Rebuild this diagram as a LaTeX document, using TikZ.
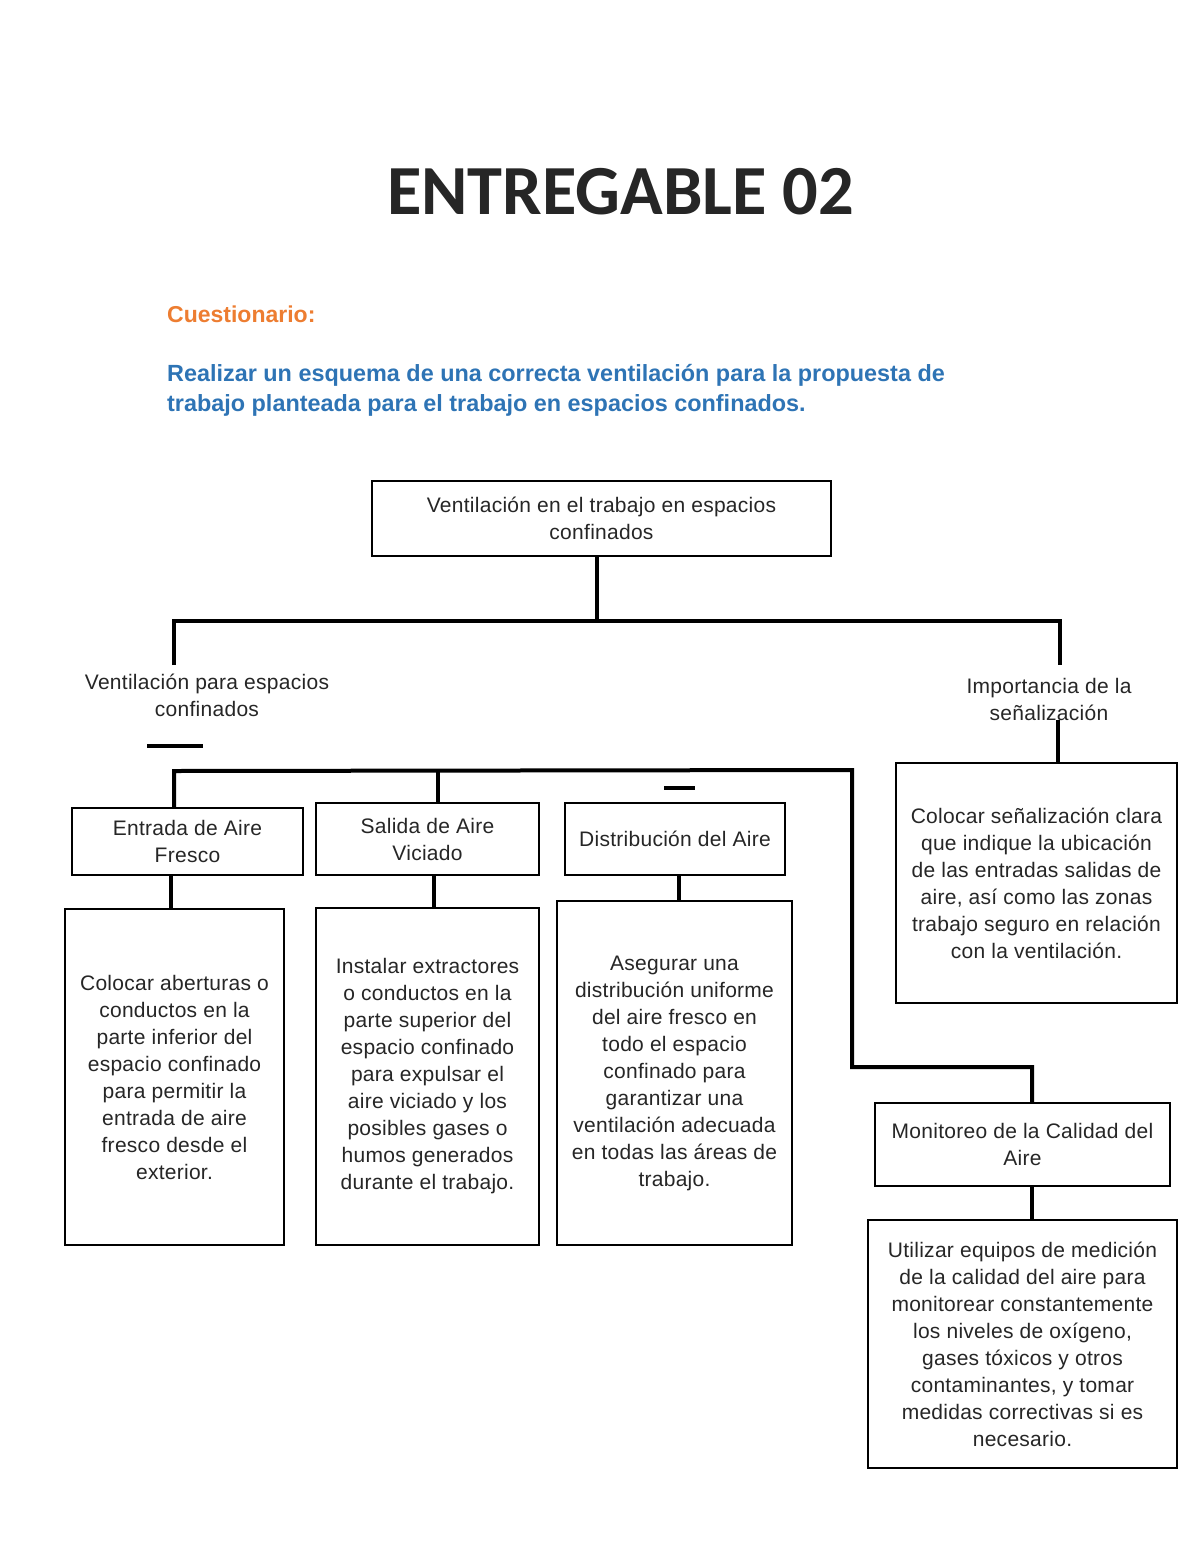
\documentclass[tikz,border=0pt]{standalone}
\usepackage{fontspec}
\setmainfont{Liberation Sans}
\newfontfamily\titlefont{Carlito}
\newfontfamily\boxfont[LetterSpace=1.3]{Liberation Sans}
\definecolor{titlegray}{HTML}{262626}
\definecolor{qorange}{HTML}{ED7D31}
\definecolor{qblue}{HTML}{2E74B5}
\definecolor{txtgray}{HTML}{262626}
\begin{document}
\begin{tikzpicture}[x=1pt,y=-1pt,
  box/.style={draw=black, line width=2.5pt, inner sep=0pt, align=center, text=txtgray,
    font=\boxfont\fontsize{21}{27}\selectfont},
  lbl/.style={inner sep=0pt, align=center, text=txtgray, font=\boxfont\fontsize{21}{27}\selectfont},
  conn/.style={draw=black, line width=4pt, line join=miter}]
\useasboundingbox (0,0) rectangle (1200,1553);
\fill[white] (0,0) rectangle (1200,1553);

% header
\node[font=\titlefont\bfseries\fontsize{70.4}{80}\selectfont, text=titlegray, anchor=base, inner sep=0pt] (title) at (620.5,214) {ENTREGABLE 02};
\node[font=\bfseries\fontsize{23}{29}\selectfont, text=qorange, anchor=base west, inner sep=0pt] (cuest) at (167,322) {Cuestionario:};
\node[font=\bfseries\fontsize{23.4}{29}\selectfont, text=qblue, anchor=base west, inner sep=0pt] (q1) at (167,381) {Realizar un esquema de una correcta ventilación para la propuesta de};
\node[font=\bfseries\fontsize{23.4}{29}\selectfont, text=qblue, anchor=base west, inner sep=0pt] (q2) at (167,411) {trabajo planteada para el trabajo en espacios confinados.};

% boxes
\node[box, minimum width=459pt, minimum height=75pt] (top) at (601.5,518.5) {Ventilación en el trabajo en espacios\\confinados};
\node[lbl] (vpe) at (207,695) {Ventilación para espacios\\confinados};
\node[lbl] (imp) at (1049,699) {Importancia de la\\señalización};
\node[box, minimum width=281pt, minimum height=240pt] (sen) at (1036.5,883) {Colocar señalización clara\\que indique la ubicación\\de las entradas salidas de\\aire, así como las zonas\\trabajo seguro en relación\\con la ventilación.};

\node[box, minimum width=231pt, minimum height=67pt] (entrada) at (187.5,841.5) {Entrada de Aire\\Fresco};
\node[box, minimum width=223pt, minimum height=72pt] (salida) at (427.5,839) {Salida de Aire\\Viciado};
\node[box, minimum width=220pt, minimum height=72pt] (dist) at (675,839) {Distribución del Aire};

\node[box, minimum width=219pt, minimum height=336pt] (d1) at (174.5,1077) {Colocar aberturas o\\conductos en la\\parte inferior del\\espacio confinado\\para permitir la\\entrada de aire\\fresco desde el\\exterior.};
\node[box, minimum width=223pt, minimum height=337pt] (d2) at (427.5,1076.5) {Instalar extractores\\o conductos en la\\parte superior del\\espacio confinado\\para expulsar el\\aire viciado y los\\posibles gases o\\humos generados\\durante el trabajo.};
\node[box, minimum width=235pt, minimum height=344pt] (d3) at (674.5,1073) {Asegurar una\\distribución uniforme\\del aire fresco en\\todo el espacio\\confinado para\\garantizar una\\ventilación adecuada\\en todas las áreas de\\trabajo.};

\node[box, minimum width=295pt, minimum height=83pt] (mon) at (1022.5,1144.5) {Monitoreo de la Calidad del\\Aire};
\node[box, minimum width=309pt, minimum height=248pt] (d5) at (1022.5,1344) {Utilizar equipos de medición\\de la calidad del aire para\\monitorear constantemente\\los niveles de oxígeno,\\gases tóxicos y otros\\contaminantes, y tomar\\medidas correctivas si es\\necesario.};

% connector coordinates
\coordinate (j1) at (597,621);
\coordinate (jl) at (174,621);
\coordinate (jr) at (1060,621);
\coordinate (jle) at (174,665);
\coordinate (jre) at (1060,665);
\coordinate (impe) at (1058,720);
\coordinate (b1) at (174,771);
\coordinate (b2) at (438,771);
\coordinate (b3) at (852,770);
\coordinate (b4) at (852,1067);
\coordinate (b5) at (1032,1067);
\coordinate (c1) at (171,0);
\coordinate (c2) at (434,0);
\coordinate (c3) at (679,0);
\coordinate (c5) at (1032,0);
\coordinate (m1a) at (147,746);
\coordinate (m1b) at (203,746);
\coordinate (m2a) at (664,788);
\coordinate (m2b) at (695,788);

% connectors
\draw[conn] (j1 |- top.south) -- (j1);
\draw[conn] (jle) -- (jl) -- (jr) -- (jre);
\draw[conn] (impe) -- (impe |- sen.north);
\draw[conn] (m1a) -- (m1b);
\draw[conn] (m2a) -- (m2b);
\draw[conn] (b1 |- entrada.north) -- (b1) -- (b3) -- (b4) -- (b5) -- (b5 |- mon.north);
\draw[conn] (b2) -- (b2 |- salida.north);
\draw[conn] (c1 |- entrada.south) -- (c1 |- d1.north);
\draw[conn] (c2 |- salida.south) -- (c2 |- d2.north);
\draw[conn] (c3 |- dist.south) -- (c3 |- d3.north);
\draw[conn] (c5 |- mon.south) -- (c5 |- d5.north);
\end{tikzpicture}
\end{document}
